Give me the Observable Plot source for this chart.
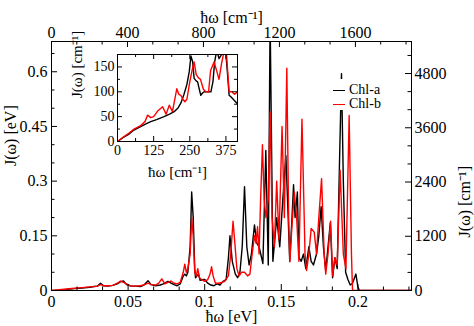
<!DOCTYPE html>
<html><head><meta charset="utf-8">
<script src="https://cdn.jsdelivr.net/npm/d3@7"></script>
<script src="https://cdn.jsdelivr.net/npm/@observablehq/plot@0.6"></script>
<style>
body{margin:0;background:#fff;}
#wrap{position:relative;width:474px;height:326px;overflow:hidden;}
#wrap svg{position:absolute;left:0;top:0;}
#wrap svg text{font-family:"Liberation Serif",serif;}
#legend{position:absolute;left:329px;top:79px;width:58px;height:31px;background:#fff;font-family:"Liberation Serif",serif;font-size:14px;color:#000;}
#legend .sw{position:absolute;left:4px;width:12px;height:0;border-top:1.4px solid;}
#legend .lb{position:absolute;left:20px;line-height:14px;}
</style></head><body><div id="wrap"></div>
<script>
const CM_PER_EV = 8065.54;
const FONT = "Liberation Serif";

// ---- main spectral densities (eV, eV) ----
const chlAEnergy = [0,0.005,0.01,0.015,0.02,0.025,0.028,0.03,0.032,0.034,0.037,0.04,0.043,0.045,0.047,0.049,0.052,0.055,0.058,0.06,0.063,0.065,0.068,0.071,0.073,0.076,0.078,0.08,0.082,0.084,0.086,0.087,0.088,0.089,0.0905,0.0915,0.0925,0.0935,0.094,0.095,0.096,0.097,0.099,0.1,0.102,0.104,0.106,0.108,0.11,0.112,0.114,0.1155,0.1165,0.118,0.12,0.1215,0.123,0.1245,0.126,0.1275,0.129,0.1305,0.1325,0.134,0.1355,0.138,0.1399,0.1415,0.1427,0.1445,0.147,0.149,0.151,0.153,0.1545,0.1555,0.157,0.158,0.159,0.1605,0.1615,0.163,0.1645,0.166,0.168,0.1695,0.171,0.173,0.1745,0.176,0.1775,0.179,0.1805,0.182,0.1835,0.185,0.1865,0.188,0.1893,0.1905,0.192,0.1935,0.195,0.1965,0.1987,0.2,0.201,0.235];
const chlAJ = [0,0.001,0.003,0.005,0.007,0.009,0.011,0.012,0.02,0.013,0.012,0.014,0.018,0.024,0.026,0.016,0.012,0.012,0.011,0.014,0.027,0.016,0.013,0.015,0.018,0.025,0.02,0.016,0.013,0.018,0.04,0.045,0.04,0.05,0.12,0.27,0.2,0.06,0.035,0.04,0.045,0.028,0.03,0.03,0.02,0.015,0.013,0.018,0.015,0.025,0.03,0.09,0.15,0.08,0.045,0.035,0.05,0.12,0.285,0.12,0.07,0.1,0.18,0.13,0.12,0.074,0.384,0.07,0.75,0.08,0.2,0.12,0.25,0.37,0.2,0.08,0.2,0.29,0.2,0.27,0.09,0.08,0.1,0.06,0.12,0.08,0.07,0.1,0.15,0.23,0.12,0.055,0.12,0.185,0.035,0.09,0.06,0.35,0.595,0.3,0.05,0.03,0.015,0.02,0.045,0.01,0,0];

const chlBEnergy = [0,0.005,0.01,0.015,0.02,0.025,0.03,0.032,0.034,0.037,0.04,0.043,0.045,0.047,0.049,0.052,0.055,0.058,0.06,0.063,0.065,0.068,0.07,0.072,0.074,0.076,0.078,0.08,0.082,0.084,0.086,0.087,0.088,0.089,0.0905,0.0915,0.0925,0.0935,0.0945,0.0955,0.0965,0.098,0.1,0.102,0.1035,0.1045,0.1055,0.107,0.109,0.111,0.113,0.1155,0.117,0.1185,0.1195,0.121,0.1225,0.124,0.126,0.128,0.1295,0.131,0.1325,0.1335,0.1345,0.1355,0.1365,0.1377,0.1388,0.14,0.1415,0.1427,0.144,0.1455,0.147,0.1485,0.1505,0.152,0.1536,0.1548,0.1556,0.157,0.1585,0.16,0.1615,0.1635,0.1655,0.1665,0.168,0.1695,0.1715,0.173,0.1745,0.1763,0.178,0.179,0.1805,0.1822,0.1835,0.185,0.1865,0.1884,0.1905,0.1922,0.1943,0.1958,0.1965,0.235];
const chlBJ = [0,0.002,0.004,0.006,0.008,0.01,0.012,0.016,0.013,0.013,0.014,0.02,0.026,0.022,0.018,0.012,0.012,0.013,0.015,0.02,0.016,0.015,0.02,0.032,0.018,0.022,0.026,0.02,0.018,0.022,0.05,0.072,0.05,0.06,0.1,0.2,0.15,0.05,0.04,0.06,0.035,0.03,0.025,0.03,0.045,0.065,0.04,0.02,0.02,0.022,0.025,0.04,0.1,0.19,0.14,0.06,0.04,0.05,0.05,0.04,0.045,0.1,0.15,0.13,0.175,0.1,0.25,0.4,0.25,0.2,0.25,0.49,0.2,0.12,0.3,0.14,0.45,0.2,0.61,0.2,0.079,0.18,0.27,0.2,0.08,0.47,0.1,0.055,0.1,0.17,0.16,0.1,0.2,0.307,0.1,0.045,0.1,0.19,0.04,0.09,0.07,0.33,0.1,0.06,0.48,0.1,0,0];

// ---- inset (cm^-1, cm^-1) ----
const insetAFreq = [0,20,40,57,80,100,115,135,161,180,196,210,219,230,240,248,254,260,265,272,277,283,288,295,300,312,323,330,336,340,345,351,357,363,370,374,380,386,392,397,405,415];
const insetAJ =    [0,8,15,23,30,36,40,44,50,55,60,68,77,95,115,140,172,160,127,122,120,105,93,98,100,100,100,120,160,173,180,167,172,178,185,182,140,93,90,87,82,76];
const insetBFreq = [0,20,40,57,80,95,104,115,125,140,156,168,179,190,205,212,219,226,233,240,250,259,265,272,280,287,297,305,315,322,334,344,351,360,368,376,380,386,395,405,415];
const insetBJ =    [0,9,17,25,32,40,53,48,50,62,70,55,73,60,106,95,93,85,80,85,120,146,160,135,128,125,105,100,100,143,160,140,125,157,180,185,150,100,100,95,100];

// ---- axis ticks ----
const xTicksEV = [0,0.05,0.1,0.15,0.2];
const yTicksEV = [0,0.15,0.3,0.45,0.6];
const topTicksCM = [0,400,800,1200,1600];
const rightTicksCM = [0,1200,2400,3600,4800];
const insetXTicks = [0,125,250,375];
const insetYTicks = [0,50,100,150];

const xMinorEV = d3.range(0, 0.236, 0.05/3).filter(v => !xTicksEV.some(t => Math.abs(t - v) < 1e-6));
const yMinorEV = d3.range(0, 0.68, 0.05).filter(v => !yTicksEV.some(t => Math.abs(t - v) < 1e-6));
const topMinorCM = d3.range(0, 1890, 400/3).filter(v => !topTicksCM.some(t => Math.abs(t - v) < 1e-6));
const rightMinorCM = d3.range(0, 5300, 400).filter(v => !rightTicksCM.includes(v));
const insetXMinor = [62.5,187.5,312.5];
const insetYMinor = [25,75,125];

const chlA = chlAEnergy.map((e, i) => ({x: e, y: chlAJ[i]}));
const chlB = chlBEnergy.map((e, i) => ({x: e, y: chlBJ[i]}));
const insA = insetAFreq.map((e, i) => ({x: e, y: insetAJ[i]}));
const insB = insetBFreq.map((e, i) => ({x: e, y: insetBJ[i]}));

const W = 474, H = 326;
const M = {left: 51, right: 63, top: 41, bottom: 36};
const iw = W - M.left - M.right, ih = H - M.top - M.bottom;
const tk = {stroke: "black", strokeWidth: 1};

const main = Plot.plot({
  width: W, height: H,
  marginLeft: M.left, marginRight: M.right, marginTop: M.top, marginBottom: M.bottom,
  style: {fontFamily: FONT, fontSize: "16px", background: "white", color: "black"},
  x: {domain: [0, 0.235], axis: null},
  y: {domain: [0, 0.683], axis: null},
  marks: [
    Plot.line(chlA, {x: "x", y: "y", stroke: "black", strokeWidth: 1.4, clip: true}),
    Plot.line(chlB, {x: "x", y: "y", stroke: "#ff0000", strokeWidth: 1.4, clip: true}),
    Plot.frame({stroke: "black", strokeWidth: 1}),
    Plot.tickX(xTicksEV, {...tk, insetTop: ih - 6}),
    Plot.tickX(xMinorEV, {...tk, insetTop: ih - 3.5}),
    Plot.tickX(topTicksCM.map(c => c / CM_PER_EV), {...tk, insetBottom: ih - 6}),
    Plot.tickX(topMinorCM.map(c => c / CM_PER_EV), {...tk, insetBottom: ih - 3.5}),
    Plot.tickY(yTicksEV, {...tk, insetRight: iw - 6}),
    Plot.tickY(yMinorEV, {...tk, insetRight: iw - 3.5}),
    Plot.tickY(rightTicksCM.map(c => c / CM_PER_EV), {...tk, insetLeft: iw - 6}),
    Plot.tickY(rightMinorCM.map(c => c / CM_PER_EV), {...tk, insetLeft: iw - 3.5}),
    Plot.axisX({anchor: "bottom", ticks: xTicksEV, tickSize: 0, tickPadding: 5, tickFormat: d => String(d), label: null, fontSize: 16, fontFamily: FONT}),
    Plot.axisX({anchor: "top", ticks: topTicksCM.map(c => c / CM_PER_EV), tickSize: 0, tickPadding: 4, tickFormat: d => String(Math.round(d * CM_PER_EV)), label: null, fontSize: 16, fontFamily: FONT}),
    Plot.axisY({anchor: "left", ticks: yTicksEV, tickSize: 0, tickPadding: 4, tickFormat: d => String(d), label: null, fontSize: 16, fontFamily: FONT}),
    Plot.axisY({anchor: "right", ticks: rightTicksCM.map(c => c / CM_PER_EV), tickSize: 0, tickPadding: 3, tickFormat: d => String(Math.round(d * CM_PER_EV)), label: null, fontSize: 16, fontFamily: FONT}),
    Plot.text(["ħω [eV]"], {frameAnchor: "bottom", text: d => d, dy: 31, fontSize: 16, fontFamily: FONT}),
    Plot.text(["ħω [cm⁻¹]"], {frameAnchor: "top", text: d => d, dy: -30, fontSize: 16, fontFamily: FONT}),
    Plot.text(["J(ω) [eV]"], {frameAnchor: "left", text: d => d, dx: -41, rotate: -90, fontSize: 16, fontFamily: FONT}),
    Plot.text(["J(ω) [cm⁻¹]"], {frameAnchor: "right", text: d => d, dx: 53, rotate: -90, fontSize: 16, fontFamily: FONT})
  ]
});

const IM = {left: 117, right: W - 237, top: 54, bottom: H - 141};
const iiw = W - IM.left - IM.right, iih = H - IM.top - IM.bottom;
const inset = Plot.plot({
  width: W, height: H,
  marginLeft: IM.left, marginRight: IM.right, marginTop: IM.top, marginBottom: IM.bottom,
  style: {fontFamily: FONT, fontSize: "14px", background: "transparent", color: "black"},
  x: {domain: [0, 415], axis: null},
  y: {domain: [0, 175], axis: null},
  marks: [
    Plot.frame({fill: "white", stroke: null}),
    Plot.line(insA, {x: "x", y: "y", stroke: "black", strokeWidth: 1.4, clip: true}),
    Plot.line(insB, {x: "x", y: "y", stroke: "#ff0000", strokeWidth: 1.4, clip: true}),
    Plot.frame({stroke: "black", strokeWidth: 1}),
    Plot.tickX(insetXTicks, {...tk, insetTop: iih - 5}),
    Plot.tickX(insetXMinor, {...tk, insetTop: iih - 3}),
    Plot.tickX(insetXTicks, {...tk, insetBottom: iih - 5}),
    Plot.tickX(insetXMinor, {...tk, insetBottom: iih - 3}),
    Plot.tickY(insetYTicks, {...tk, insetRight: iiw - 5}),
    Plot.tickY(insetYMinor, {...tk, insetRight: iiw - 3}),
    Plot.tickY(insetYTicks, {...tk, insetLeft: iiw - 5}),
    Plot.tickY(insetYMinor, {...tk, insetLeft: iiw - 3}),
    Plot.axisX({anchor: "bottom", ticks: insetXTicks, tickSize: 0, tickPadding: 4, tickFormat: d => String(d), label: null, fontSize: 14, fontFamily: FONT}),
    Plot.axisY({anchor: "left", ticks: insetYTicks, tickSize: 0, tickPadding: 3, tickFormat: d => String(d), label: null, fontSize: 14, fontFamily: FONT}),
    Plot.text(["ħω [cm⁻¹]"], {frameAnchor: "bottom", text: d => d, dy: 35, fontSize: 15, fontFamily: FONT}),
    Plot.text(["J(ω) [cm⁻¹]"], {frameAnchor: "left", text: d => d, dx: -40, rotate: -90, fontSize: 15, fontFamily: FONT})
  ]
});

const wrap = document.getElementById("wrap");
wrap.appendChild(main);
wrap.appendChild(inset);

const legendItems = ["Chl-a", "Chl-b"];
const legendColors = ["black", "#ff0000"];
const lg = document.createElement("div");
lg.id = "legend";
legendItems.forEach((name, i) => {
  const sw = document.createElement("div");
  sw.className = "sw";
  sw.style.borderTopColor = legendColors[i];
  sw.style.top = (10.5 + i * 14) + "px";
  const lb = document.createElement("div");
  lb.className = "lb";
  lb.style.top = (3.5 + i * 14) + "px";
  lb.textContent = name;
  lg.appendChild(sw);
  lg.appendChild(lb);
});
wrap.appendChild(lg);
</script></body></html>
